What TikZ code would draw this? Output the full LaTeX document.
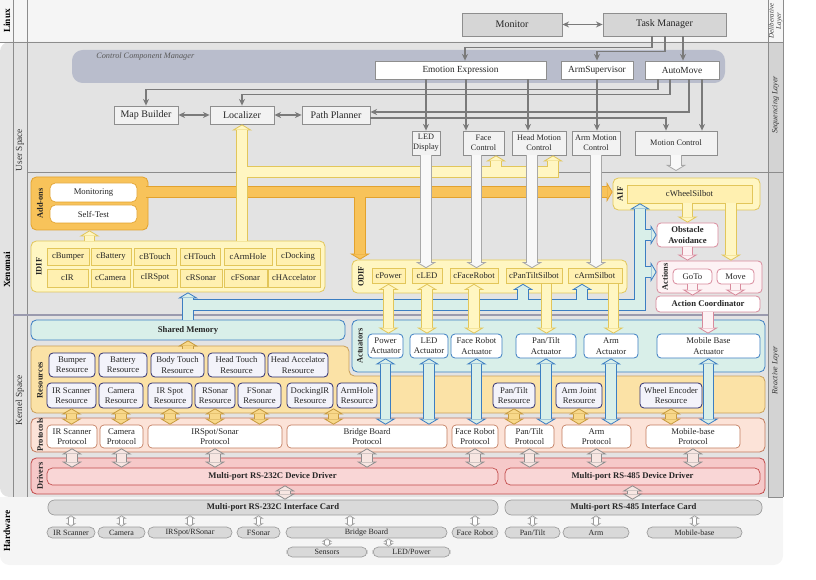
\documentclass[tikz,border=0pt]{standalone}
\usepackage{fontspec}
\setmainfont{Liberation Serif}
\usepackage{tikz}
\usetikzlibrary{arrows.meta,calc,positioning}

\definecolor{lineG}{HTML}{7A7A7A}
\definecolor{frameG}{HTML}{8C8C8C}
\definecolor{bgLinux}{HTML}{F5F5F5}
\definecolor{bgXeno}{HTML}{E3E3E3}
\definecolor{stripG}{HTML}{D3D3D3}
\definecolor{sepL}{HTML}{9A9AAE}
\definecolor{ccmF}{HTML}{B9BDCC}
\definecolor{seqF}{HTML}{F2F2F2}
\definecolor{seqD}{HTML}{8E8E8E}
\definecolor{topF}{HTML}{D6D6D6}
\definecolor{ylwF}{HTML}{FFF6C2}
\definecolor{ylwD}{HTML}{E2C65A}
\definecolor{cellF}{HTML}{FFF0B0}
\definecolor{orgF}{HTML}{F8C35A}
\definecolor{orgD}{HTML}{E2A22E}
\definecolor{cynF}{HTML}{D9EFE9}
\definecolor{cynD}{HTML}{3C7EC2}
\definecolor{pnkD}{HTML}{D88A9C}
\definecolor{pnkF}{HTML}{FDF2F4}
\definecolor{whtF}{HTML}{F8F8F8}
\definecolor{whtD}{HTML}{A8A8A8}
\definecolor{rscF}{HTML}{FBE2A6}
\definecolor{rscD}{HTML}{C9A05C}
\definecolor{rboxF}{HTML}{F3F3FA}
\definecolor{rboxD}{HTML}{2C2C6E}
\definecolor{arrF}{HTML}{F8D88A}
\definecolor{arrD}{HTML}{C69A3E}
\definecolor{proF}{HTML}{FCE3D8}
\definecolor{proD}{HTML}{C27A5C}
\definecolor{drvF}{HTML}{F6C9C9}
\definecolor{drvD}{HTML}{C24A4A}
\definecolor{dboxF}{HTML}{F9D6D6}
\definecolor{pdF}{HTML}{F7E6E2}
\definecolor{pdD}{HTML}{8E8E8E}
\definecolor{hwF}{HTML}{D9D9D9}
\definecolor{hwD}{HTML}{9C9C9C}

% fat arrow: outline pass with tip, then fill pass
\newcommand{\fatE}[3][3.9pt]{\draw[#2O,-#2T] #3; \draw[#2I,shorten >=#1] #3;}
\newcommand{\fatB}[3][3.9pt]{\draw[#2O,#2T-#2T] #3; \draw[#2I,shorten >=#1,shorten <=#1] #3;}

\tikzset{
  base/.style={inner sep=0pt, align=center, text=black!85, font=\fontsize{6.5}{7.8}\selectfont},
  wh/.style 2 args={minimum width=#1*0.75pt, minimum height=#2*0.75pt},
  conn/.style={draw=lineG, line width=0.8pt, -{Stealth[length=5pt,width=4.5pt]}},
  conn2/.style={conn, {Stealth[length=5pt,width=4.5pt]}-{Stealth[length=5pt,width=4.5pt]}},
  topbox/.style={base, draw=seqD, fill=topF, line width=0.6pt, font=\fontsize{7.5}{9}\selectfont},
  ccmbox/.style={base, draw=seqD, fill=white, line width=0.6pt, font=\fontsize{7}{8}\selectfont},
  seqA/.style={base, draw=seqD, fill=seqF, line width=0.6pt, font=\fontsize{7.5}{9}\selectfont},
  seqB/.style={base, draw=seqD, fill=seqF, line width=0.6pt, font=\fontsize{6.2}{7.4}\selectfont},
  ylwbox/.style={base, draw=ylwD, fill=ylwF, line width=0.6pt, rounded corners=4pt},
  cell/.style={base, draw=ylwD, fill=cellF, line width=0.5pt},
  orgbox/.style={base, draw=orgD, fill=orgF, line width=0.6pt, rounded corners=4pt},
  wbox/.style={base, draw=orgD, fill=white, line width=0.5pt, rounded corners=4pt},
  pnkbox/.style={base, draw=pnkD, fill=white, line width=0.6pt, rounded corners=3pt},
  bold/.style={font=\fontsize{6.5}{7.8}\selectfont\bfseries},
  cynbox/.style={base, draw=cynD, fill=cynF, line width=0.6pt, rounded corners=4pt},
  actbox/.style={base, draw=cynD, fill=white, line width=0.6pt, rounded corners=3pt},
  rbox/.style={base, draw=rboxD, fill=rboxF, line width=0.6pt, rounded corners=3pt},
  probg/.style={base, draw=proD, fill=proF, line width=0.6pt, rounded corners=4pt},
  pbox/.style={base, draw=proD, fill=white, line width=0.5pt, rounded corners=3pt},
  drvbg/.style={base, draw=drvD, fill=drvF, line width=0.6pt, rounded corners=4pt},
  dbox/.style={base, draw=drvD, fill=dboxF, line width=0.5pt, rounded corners=4pt, bold},
  card/.style={base, draw=hwD, fill=hwF, line width=0.5pt, rounded corners=5pt, bold},
  dev/.style={base, draw=hwD, fill=hwF, line width=0.5pt, rounded corners=4pt, font=\fontsize{6}{7}\selectfont},
  tag/.style={inner sep=0pt, rotate=90, text=black!85, font=\fontsize{6.3}{7}\selectfont\bfseries},
  sidelbl/.style={inner sep=0pt, rotate=90, font=\fontsize{7}{8}\selectfont\bfseries},
  spacelbl/.style={inner sep=0pt, rotate=90, text=black!80, font=\fontsize{7}{8}\selectfont},
  layerlbl/.style={inner sep=0pt, rotate=90, align=center, text=black!80, font=\fontsize{6}{6}\selectfont\itshape},
  ylwO/.style={draw=ylwD, line width=8.6pt}, ylwI/.style={draw=ylwF, line width=7.4pt},
  ylwT/.tip={Triangle[length=4.5pt,width=15pt,fill=ylwF,line width=0.6pt]},
  orgO/.style={draw=orgD, line width=8.6pt}, orgI/.style={draw=orgF, line width=7.4pt},
  orgT/.tip={Triangle[length=4.5pt,width=15pt,fill=orgF,line width=0.6pt]},
  cynO/.style={draw=cynD, line width=8.6pt}, cynI/.style={draw=cynF, line width=7.4pt},
  cynT/.tip={Triangle[length=4.5pt,width=15pt,fill=cynF,line width=0.6pt]},
  whtO/.style={draw=whtD, line width=8.6pt}, whtI/.style={draw=whtF, line width=7.4pt},
  whtT/.tip={Triangle[length=4.5pt,width=15pt,fill=whtF,line width=0.6pt]},
  pnkO/.style={draw=pnkD, line width=8.6pt}, pnkI/.style={draw=pnkF, line width=7.4pt},
  pnkT/.tip={Triangle[length=4.5pt,width=15pt,fill=pnkF,line width=0.6pt]},
  rscO/.style={draw=arrD, line width=8.6pt}, rscI/.style={draw=arrF, line width=7.4pt},
  rscT/.tip={Triangle[length=4.5pt,width=15pt,fill=arrF,line width=0.6pt]},
  drvO/.style={draw=pdD, line width=8.6pt}, drvI/.style={draw=pdF, line width=7.4pt},
  drvT/.tip={Triangle[length=4.5pt,width=15pt,fill=pdF,line width=0.6pt]},
  hwO/.style={draw=hwD, line width=4pt}, hwI/.style={draw=white, line width=2.8pt},
  hwT/.tip={Triangle[length=2.4pt,width=7.5pt,fill=white,line width=0.5pt]},
}

\begin{document}
\begin{tikzpicture}[x=0.75pt,y=-0.75pt]
\useasboundingbox (0,0) rectangle (816,580);

% layer backgrounds
\fill[bgLinux] (0,0) rectangle (783,42);
\fill[bgXeno] (768,42) [rounded corners=7pt] -- (0,42) -- (0,497) [sharp corners] -- (768,497) -- cycle;
\fill[bgLinux] (0,497) [rounded corners=7pt] -- (0,565) -- (783,565) [sharp corners] -- (783,497) -- cycle;
\fill[stripG] (768,42) rectangle (783,497);
\draw[frameG, line width=0.6pt] (13,0) -- (13,497) (27,0) -- (27,497) (768,0) -- (768,497) (783,0) -- (783,497)
  (0,42) -- (783,42) (27,172) -- (783,172) (768,497) -- (783,497);
\draw[sepL, line width=1.5pt] (13,315) -- (768,315);

\node[sidelbl] (lLinux) at (7,21) {Linux};
\node[sidelbl] (lXeno) at (7,270) {Xenomai};
\node[sidelbl] (lHw) at (7,531) {Hardware};
\node[spacelbl] (lUser) at (20,150) {User Space};
\node[spacelbl] (lKern) at (20,400) {Kernel Space};
\node[layerlbl, font=\fontsize{5.2}{5.4}\selectfont\itshape] (lDel) at (775.5,21) {Deliberative\\Layer};
\node[layerlbl] (lSeq) at (775.5,105) {Sequencing Layer};
\node[layerlbl] (lRea) at (775.5,370) {Reactive Layer};

% deliberative
\node[topbox, wh={100}{23}] (mon) at (512,24.5) {Monitor};
\node[topbox, wh={123}{23}] (tm) at (664.5,24.5) {Task Manager};
\draw[conn2] (mon) -- (tm);

% sequencing
\node[fill=ccmF, rounded corners=8pt, wh={653}{33}] (ccm) at (398.5,66.5) {};
\node[inner sep=0pt, anchor=west, text=black!65, font=\fontsize{6.2}{7}\selectfont\itshape] (ccmL) at (96,57) {Control Component Manager};
\node[ccmbox, wh={171}{18}] (ee) at (460.5,70) {Emotion Expression};
\node[ccmbox, wh={72}{18}] (as) at (597,70) {ArmSupervisor};
\node[ccmbox, wh={74}{18}] (am) at (682,70) {AutoMove};

\node[seqA, wh={64}{18}] (mb) at (146,115) {Map Builder};
\node[seqA, wh={64}{18}] (loc) at (242,115) {Localizer};
\node[seqA, wh={68}{18}] (pp) at (336,115) {Path Planner};
\draw[conn2] (mb) -- (loc);
\draw[conn2] (loc) -- (pp);

\node[seqB, wh={28}{24}] (led) at (426,143) {LED\\Display};
\node[seqB, wh={41}{24}] (fc) at (483.5,143) {Face\\Control};
\node[seqB, wh={54}{24}] (hmc) at (539,143) {Head Motion\\Control};
\node[seqB, wh={48}{24}] (amc) at (596,143) {Arm Motion\\Control};
\node[seqB, wh={82}{24}] (mc) at (676,143) {Motion Control};

\draw[conn] ($(tm.south)+(-12.5,0)$) -- ++(0,11) -| ($(ee.north)+(4.5,0)$);
\draw[conn] ($(tm.south)+(0.5,0)$) -- ++(0,15) -| (as.north);
\draw[conn] ($(tm.south)+(18.5,0)$) -- ($(am.north)+(1,0)$);
\draw[conn] ($(am.south)+(-24,0)$) -- ++(0,10) -| (mb.north);
\draw[conn] ($(am.south)+(-12,0)$) -- ++(0,15) -| (loc.north);
\draw[conn] ($(am.south)+(7,0)$) |- ($(pp.east)+(0,-3)$);
\draw[conn] ($(am.south)+(20,0)$) -- ($(mc.north)+(26,0)$);
\draw[conn] ($(pp.east)+(0,3)$) -| ($(mc.north)+(-10,0)$);
\draw[conn] (led.north |- ee.south) -- (led.north);
\draw[conn] ($(ee.south)+(5.5,0)$) -- ($(fc.north)+(-17.5,0)$);
\draw[conn] ($(ee.south)+(67.5,0)$) -- ($(hmc.north)+(-11,0)$);
\draw[conn] (as.south) -- (as.south |- amc.north);

% reactive, user space
\node[orgbox, wh={117}{53}] (addons) at (89.5,203.5) {};
\node[tag] (addonsL) at (40,203.5) {Add-ons};
\node[wbox, wh={87}{19}] (moni) at (93.5,192.5) {Monitoring};
\node[wbox, wh={87}{18}] (selft) at (93.5,214) {Self-Test};

\node[ylwbox, wh={294}{51}] (idif) at (178,266.5) {};
\node[tag] (idifL) at (39,266.5) {IDIF};
\foreach \n/\x/\w/\lbl in {cbmp/68/42/cBumper, cbat/111/40/cBattery, cbt/155/42/cBTouch,
    cht/200/40/cHTouch, cah/248/48/cArmHole, cdk/298/44/cDocking}
  \node[cell, wh={\w}{17}] (\n) at (\x,256.5) {\lbl};
\foreach \n/\x/\w/\lbl in {cir/67.5/41/cIR, ccam/110.5/39/cCamera, cirs/155/44/cIRSpot,
    crs/201/42/cRSonar, cfs/245.5/43/cFSonar, cha/294/52/cHAccelator}
  \node[cell, wh={\w}{18}] (\n) at (\x,278) {\lbl};

\node[ylwbox, wh={275}{33}] (odif) at (489.5,276.5) {};
\node[tag] (odifL) at (361,276.5) {ODIF};
\foreach \n/\x/\w/\lbl in {cpow/388.5/33/cPower, cled/427/30/cLED, cfr/474/48/cFaceRobot,
    cpt/534/56/cPanTiltSilbot, carm/595/54/cArmSilbot}
  \node[cell, wh={\w}{15}] (\n) at (\x,276) {\lbl};

\node[ylwbox, wh={147}{32}] (aif) at (686.5,194) {};
\node[tag] (aifL) at (620,194) {AIF};
\node[cell, wh={125}{18}] (cws) at (689.5,194) {cWheelSilbot};

\node[pnkbox, bold, wh={61}{24}] (oa) at (687.5,235) {Obstacle\\Avoidance};
\node[pnkbox, fill=pnkF, wh={105}{32}] (act) at (709.5,277) {};
\node[tag] (actL) at (665,277) {Actions};
\node[pnkbox, wh={39}{15}] (goto) at (692.5,276.5) {GoTo};
\node[pnkbox, wh={37}{15}] (move) at (735.5,276.5) {Move};
\node[pnkbox, bold, wh={104}{16}] (ac) at (708,304) {Action Coordinator};

% kernel space
\node[cynbox, bold, wh={314}{20}] (sm) at (188,330) {Shared Memory};
\path[fill=rscF, draw=rscD, line width=0.6pt, rounded corners=4pt]
  (31,346) -- (349,346) -- (349,376) -- (765,376) -- (765,413) -- (31,413) -- cycle;
\node[tag] (rscL) at (40,380) {Resources};
\node[cynbox, wh={413}{52}] (actu) at (558.5,346) {};
\node[tag] (actuL) at (360,346) {Actuators};
\foreach \n/\x/\w/\lbl in {pwr/385.5/35/Power, ledA/429/38/LED, frA/476.5/51/Face Robot,
    ptA/546/60/{Pan/Tilt}, armA/611/54/Arm, mbA/708.5/103/Mobile Base}
  \node[actbox, wh={\w}{24}] (\n) at (\x,346) {\lbl\\Actuator};

\foreach \n/\x/\w/\lbl in {bmpR/72/46/Bumper, batR/123/48/Battery, btR/177.5/53/Body Touch,
    htR/236.5/57/Head Touch, haR/298/60/Head Accelator}
  \node[rbox, wh={\w}{24}] (\n) at (\x,365) {\lbl\\Resource};
\foreach \n/\x/\w/\lbl in {irsR/71.5/49/IR Scanner, camR/121/44/Camera, irspR/170/44/IR Spot,
    rsR/215/40/RSonar, fsR/259.5/43/FSonar, dockR/310/46/DockingIR, armhR/357/40/ArmHole,
    ptR/514/42/{Pan/Tilt}, ajR/579/46/Arm Joint, weR/671/62/Wheel Encoder}
  \node[rbox, wh={\w}{25}] (\n) at (\x,395.5) {\lbl\\Resource};

\node[probg, wh={734}{34}] (proto) at (398,435) {};
\node[tag] (protoL) at (40,435) {Protocols};
\foreach \n/\x/\w/\lbl in {irsP/72/50/IR Scanner, camP/121.5/43/Camera, irspP/215/134/{IRSpot/Sonar},
    bbP/367/160/Bridge Board, frP/475/46/Face Robot, ptP/529.5/49/{Pan/Tilt}, armP/596.5/69/Arm,
    mbP/693/94/Mobile-base}
  \node[pbox, wh={\w}{23}] (\n) at (\x,436.5) {\lbl\\Protocol};

\node[drvbg, wh={734}{36}] (drv) at (398,476) {};
\node[tag] (drvL) at (40,476) {Drivers};
\node[dbox, wh={451}{17}] (rs232D) at (272.5,476.5) {Multi-port RS-232C Device Driver};
\node[dbox, wh={255}{17}] (rs485D) at (632.5,476.5) {Multi-port RS-485 Device Driver};

% hardware
\node[card, wh={450}{15}] (rs232C) at (273,507.5) {Multi-port RS-232C Interface Card};
\node[card, wh={257}{15}] (rs485C) at (633.5,507.5) {Multi-port RS-485 Interface Card};
\foreach \n/\x/\w/\lbl in {irsH/71/48/IR Scanner, camH/121.5/47/Camera, irspH/190/84/{IRSpot/RSonar},
    fsH/258.5/43/FSonar, bbH/366.5/161/Bridge Board, frH/475/46/Face Robot, ptH/532.5/55/{Pan/Tilt},
    armH/596/66/Arm, mbH/694.5/95/Mobile-base}
  \node[dev, wh={\w}{11}] (\n) at (\x,532.5) {\lbl};
\node[dev, wh={80}{10}] (sens) at (327,552) {Sensors};
\node[dev, wh={77}{10}] (ledpH) at (411.5,552) {LED/Power};

% orange bus
\coordinate (ob1) at (146,192);
\coordinate (ob2) at (360,192);
\draw[orgO,-orgT] (ob1) -- (ob1 -| aif.west);
\draw[orgO,-orgT] (ob2) -- (ob2 |- odif.north);
\draw[orgI,shorten >=3.9pt] (ob1) -- (ob1 -| aif.west);
\draw[orgI,shorten >=3.9pt] (ob2) -- (ob2 |- odif.north);

% yellow bus
\coordinate (yb1) at (242,172);
\coordinate (yb2) at (553,172);
\coordinate (yb3) at (496,172);
\draw[ylwO,-ylwT] (loc.south |- idif.north) -- (loc.south);
\draw[ylwO,-ylwT] (yb1) -- (yb2) -- (yb2 |- hmc.south);
\draw[ylwO,-ylwT] (yb3) -- (yb3 |- fc.south);
\draw[ylwI,shorten >=3.9pt] (loc.south |- idif.north) -- (loc.south);
\draw[ylwI,shorten >=3.9pt] (yb1) -- (yb2) -- (yb2 |- hmc.south);
\draw[ylwI,shorten >=3.9pt] (yb3) -- (yb3 |- fc.south);
\fatE{ylw}{(addons.south |- idif.north) -- (addons.south)}

% commands down to ODIF
\fatE{wht}{(led.south) -- (led.south |- cled.north)}
\fatE{wht}{($(fc.south)+(-7,0)$) -- ($(cfr.north)+(2.5,0)$)}
\fatE{wht}{($(hmc.south)+(-7,0)$) -- ($(cpt.north)+(-2,0)$)}
\fatE{wht}{(amc.south) -- (amc.south |- carm.north)}
\coordinate (mcE) at (676,171);
\fatE{wht}{(mc.south) -- (mcE)}

% cyan bus
\coordinate (cy1) at (188,305);
\coordinate (cy2) at (640,305);
\coordinate (cyP) at (523,305);
\coordinate (cyA) at (582,305);
\coordinate (cyO) at (640,235);
\coordinate (cyC) at (640,272);
\draw[cynO,-cynT] (sm.north) -- (sm.north |- idif.south);
\draw[cynO,-cynT] (cy1) -- (cy2) -- (cy2 |- cws.south);
\draw[cynO,-cynT] (cyP) -- (cyP |- cpt.south);
\draw[cynO,-cynT] (cyA) -- (cyA |- carm.south);
\draw[cynO,-cynT] (cyO) -- (oa.west);
\draw[cynO,-cynT] (cyC) -- (cyC -| act.west);
\draw[cynI,shorten >=3.9pt] (sm.north) -- (sm.north |- idif.south);
\draw[cynI,shorten >=3.9pt] (cy1) -- (cy2) -- (cy2 |- cws.south);
\draw[cynI,shorten >=3.9pt] (cyP) -- (cyP |- cpt.south);
\draw[cynI,shorten >=3.9pt] (cyA) -- (cyA |- carm.south);
\draw[cynI,shorten >=3.9pt] (cyO) -- (oa.west);
\draw[cynI,shorten >=3.9pt] (cyC) -- (cyC -| act.west);

% behaviours
\fatE{ylw}{(cws.south -| oa.north) -- (oa.north)}
\fatE{ylw}{($(cws.south)+(41.5,0)$) -- ($(act.north)+(21.5,0)$)}
\fatE{pnk}{(oa.south) -- (oa.south |- act.north)}
\fatE{pnk}{(goto.south) -- (goto.south |- ac.north)}
\fatE{pnk}{(move.south) -- (move.south |- ac.north)}
\fatE{pnk}{(ac.south) -- (ac.south |- mbA.north)}

% ODIF to actuators
\fatB{ylw}{(cpow.south) -- (cpow.south |- pwr.north)}
\fatB{ylw}{(cled.south) -- (cled.south |- ledA.north)}
\fatB{ylw}{(cfr.south) -- (cfr.south |- frA.north)}
\fatE{ylw}{($(cpt.south)+(12.5,0)$) -- ($(ptA.north)+(0.5,0)$)}
\fatE{ylw}{($(carm.south)+(18.5,0)$) -- ($(armA.north)+(2.5,0)$)}

% actuators to protocols
\fatB{cyn}{(pwr.south) -- (pwr.south |- bbP.north)}
\fatB{cyn}{(ledA.south) -- (ledA.south |- bbP.north)}
\fatB{cyn}{(frA.south) -- (frA.south |- frP.north)}
\fatB{cyn}{(ptA.south) -- (ptA.south |- ptP.north)}
\fatB{cyn}{(armA.south) -- (armA.south |- armP.north)}
\fatB{cyn}{(mbA.south) -- (mbA.south |- mbP.north)}

% resources
\coordinate (resTop) at (188,349);
\fatE{rsc}{(resTop) -- (sm.south)}
\foreach \rs/\pr in {irsR/irsP, camR/camP, irspR/irspP, rsR/irspP, fsR/irspP, ptR/ptP, ajR/armP, weR/mbP}
  {\fatB{rsc}{(\rs.south) -- (\rs.south |- \pr.north)}}
\coordinate (resBB) at ($(dockR.south)!0.5!(armhR.south)$);
\fatB{rsc}{(resBB) -- (resBB |- bbP.north)}

% protocols to drivers to cards
\foreach \pr/\dv in {irsP/rs232D, camP/rs232D, irspP/rs232D, bbP/rs232D, frP/rs232D,
    ptP/rs485D, armP/rs485D, mbP/rs485D}
  {\fatB{drv}{(\pr.south) -- (\pr.south |- \dv.north)}}
\fatB{drv}{($(rs232D.south)+(12.5,0)$) -- ($(rs232C.north)+(12,0)$)}
\fatB{drv}{(rs485D.south) -- (rs485D.south |- rs485C.north)}

% hardware links
\foreach \dv/\cd in {irsH/rs232C, camH/rs232C, irspH/rs232C, fsH/rs232C, frH/rs232C,
    ptH/rs485C, armH/rs485C, mbH/rs485C}
  {\fatB[1.9pt]{hw}{(\dv.north |- \cd.south) -- (\dv.north)}}
\fatB[1.9pt]{hw}{($(bbH.north |- rs232C.south)+(-16.5,0)$) -- ($(bbH.north)+(-16.5,0)$)}
\fatB[1.9pt]{hw}{(sens.north |- bbH.south) -- (sens.north)}
\fatB[1.9pt]{hw}{($(ledpH.north |- bbH.south)+(-23,0)$) -- ($(ledpH.north)+(-23,0)$)}
\end{tikzpicture}
\end{document}
